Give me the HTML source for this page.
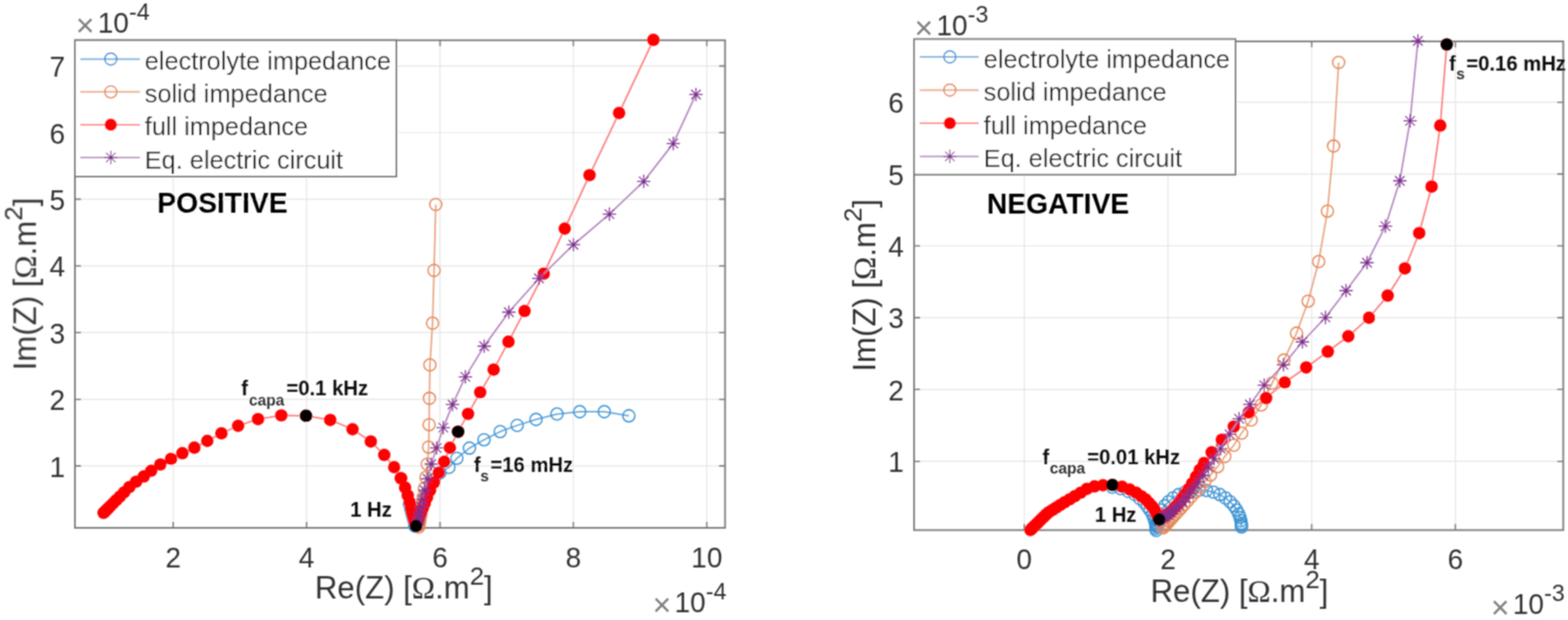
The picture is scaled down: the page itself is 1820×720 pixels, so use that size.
<!DOCTYPE html><html><head><meta charset="utf-8"><title>Impedance plots</title><style>html,body{margin:0;padding:0;background:#fff;}svg{display:block;}text{font-family:"Liberation Sans",Arial,sans-serif;}.t{fill:#333;font-size:32.5px;}.lab{fill:#333;font-size:36.2px;}.lg{fill:#262626;font-size:29.4px;}.an{fill:#111;font-size:23.5px;font-weight:bold;}.ans{fill:#333;font-size:18px;font-weight:bold;}.big{fill:#000;font-size:32.8px;font-weight:bold;}.om{font-family:"Liberation Serif",serif;}</style></head><body>
<svg width="1820" height="720" viewBox="0 0 1820 720">
<rect width="1820" height="720" fill="#fff"/>
<filter id="bl" x="0" y="0" width="1820" height="720" filterUnits="userSpaceOnUse"><feConvolveMatrix order="3" kernelMatrix="1 2 1 2 4 2 1 2 1" edgeMode="duplicate" preserveAlpha="false"/></filter>
<g filter="url(#bl)">
<defs><clipPath id="cl"><rect x="87" y="46.7" width="754.6" height="566.3"/></clipPath><clipPath id="cr"><rect x="1061" y="48.1" width="753.5" height="567.5"/></clipPath></defs>
<line x1="201" y1="46.7" x2="201" y2="613" stroke="#e4e4e4" stroke-width="1.2"/>
<line x1="355.8" y1="46.7" x2="355.8" y2="613" stroke="#e4e4e4" stroke-width="1.2"/>
<line x1="510.7" y1="46.7" x2="510.7" y2="613" stroke="#e4e4e4" stroke-width="1.2"/>
<line x1="665.5" y1="46.7" x2="665.5" y2="613" stroke="#e4e4e4" stroke-width="1.2"/>
<line x1="820.4" y1="46.7" x2="820.4" y2="613" stroke="#e4e4e4" stroke-width="1.2"/>
<line x1="87" y1="541.1" x2="841.6" y2="541.1" stroke="#e4e4e4" stroke-width="1.2"/>
<line x1="87" y1="463.7" x2="841.6" y2="463.7" stroke="#e4e4e4" stroke-width="1.2"/>
<line x1="87" y1="386.2" x2="841.6" y2="386.2" stroke="#e4e4e4" stroke-width="1.2"/>
<line x1="87" y1="308.8" x2="841.6" y2="308.8" stroke="#e4e4e4" stroke-width="1.2"/>
<line x1="87" y1="231.4" x2="841.6" y2="231.4" stroke="#e4e4e4" stroke-width="1.2"/>
<line x1="87" y1="154" x2="841.6" y2="154" stroke="#e4e4e4" stroke-width="1.2"/>
<line x1="87" y1="76.6" x2="841.6" y2="76.6" stroke="#e4e4e4" stroke-width="1.2"/>
<path d="M201 613v-7M201 46.7v7M355.8 613v-7M355.8 46.7v7M510.7 613v-7M510.7 46.7v7M665.5 613v-7M665.5 46.7v7M820.4 613v-7M820.4 46.7v7M87 541.1h7M841.6 541.1h-7M87 463.7h7M841.6 463.7h-7M87 386.2h7M841.6 386.2h-7M87 308.8h7M841.6 308.8h-7M87 231.4h7M841.6 231.4h-7M87 154h7M841.6 154h-7M87 76.6h7M841.6 76.6h-7" stroke="#777" stroke-width="1.6" fill="none"/>
<rect x="87" y="46.7" width="754.6" height="566.3" fill="none" stroke="#7a7a7a" stroke-width="2"/>
<polyline points="729.9,482.9 701.4,478.1 672.9,478.1 646.5,480.8 622.2,487.1 600.3,494 580.6,501.2 561.8,510.7 544.9,520.4 530.3,532.2 521,542.8 510.6,549.1 503.8,556.9 499.2,565.2 495.3,572.5 492.8,579.3 490.5,585.2 488.6,590.4 486.9,595 485.6,599.1 484.3,602.6 483.3,605.7 482.3,608.4 481.5,610.8 481.9,611.6 481.2,609.3 480.5,606.7 479.6,603.6 478.6,600.1 477.4,596 476.1,591.3 474.6,585.8" fill="none" stroke="#62a6da" stroke-width="1.8" stroke-linejoin="round" clip-path="url(#cl)"/>
<circle cx="729.9" cy="482.9" r="7.0" fill="none" stroke="#3a93d3" stroke-width="1.6"/>
<circle cx="701.4" cy="478.1" r="7.0" fill="none" stroke="#3a93d3" stroke-width="1.6"/>
<circle cx="672.9" cy="478.1" r="7.0" fill="none" stroke="#3a93d3" stroke-width="1.6"/>
<circle cx="646.5" cy="480.8" r="7.0" fill="none" stroke="#3a93d3" stroke-width="1.6"/>
<circle cx="622.2" cy="487.1" r="7.0" fill="none" stroke="#3a93d3" stroke-width="1.6"/>
<circle cx="600.3" cy="494" r="7.0" fill="none" stroke="#3a93d3" stroke-width="1.6"/>
<circle cx="580.6" cy="501.2" r="7.0" fill="none" stroke="#3a93d3" stroke-width="1.6"/>
<circle cx="561.8" cy="510.7" r="7.0" fill="none" stroke="#3a93d3" stroke-width="1.6"/>
<circle cx="544.9" cy="520.4" r="7.0" fill="none" stroke="#3a93d3" stroke-width="1.6"/>
<circle cx="530.3" cy="532.2" r="7.0" fill="none" stroke="#3a93d3" stroke-width="1.6"/>
<circle cx="521" cy="542.8" r="7.0" fill="none" stroke="#3a93d3" stroke-width="1.6"/>
<circle cx="510.6" cy="549.1" r="7.0" fill="none" stroke="#3a93d3" stroke-width="1.6"/>
<circle cx="503.8" cy="556.9" r="7.0" fill="none" stroke="#3a93d3" stroke-width="1.6"/>
<circle cx="499.2" cy="565.2" r="7.0" fill="none" stroke="#3a93d3" stroke-width="1.6"/>
<circle cx="495.3" cy="572.5" r="7.0" fill="none" stroke="#3a93d3" stroke-width="1.6"/>
<circle cx="492.8" cy="579.3" r="7.0" fill="none" stroke="#3a93d3" stroke-width="1.6"/>
<circle cx="490.5" cy="585.2" r="7.0" fill="none" stroke="#3a93d3" stroke-width="1.6"/>
<circle cx="488.6" cy="590.4" r="7.0" fill="none" stroke="#3a93d3" stroke-width="1.6"/>
<circle cx="486.9" cy="595" r="7.0" fill="none" stroke="#3a93d3" stroke-width="1.6"/>
<circle cx="485.6" cy="599.1" r="7.0" fill="none" stroke="#3a93d3" stroke-width="1.6"/>
<circle cx="484.3" cy="602.6" r="7.0" fill="none" stroke="#3a93d3" stroke-width="1.6"/>
<circle cx="483.3" cy="605.7" r="7.0" fill="none" stroke="#3a93d3" stroke-width="1.6"/>
<circle cx="482.3" cy="608.4" r="7.0" fill="none" stroke="#3a93d3" stroke-width="1.6"/>
<circle cx="481.5" cy="610.8" r="7.0" fill="none" stroke="#3a93d3" stroke-width="1.6"/>
<circle cx="481.9" cy="611.6" r="6.3" fill="none" stroke="#3a93d3" stroke-width="1.6"/>
<circle cx="481.2" cy="609.3" r="6.3" fill="none" stroke="#3a93d3" stroke-width="1.6"/>
<circle cx="480.5" cy="606.7" r="6.3" fill="none" stroke="#3a93d3" stroke-width="1.6"/>
<circle cx="479.6" cy="603.6" r="6.3" fill="none" stroke="#3a93d3" stroke-width="1.6"/>
<circle cx="478.6" cy="600.1" r="6.3" fill="none" stroke="#3a93d3" stroke-width="1.6"/>
<circle cx="477.4" cy="596" r="6.3" fill="none" stroke="#3a93d3" stroke-width="1.6"/>
<circle cx="476.1" cy="591.3" r="6.3" fill="none" stroke="#3a93d3" stroke-width="1.6"/>
<circle cx="474.6" cy="585.8" r="6.3" fill="none" stroke="#3a93d3" stroke-width="1.6"/>
<polyline points="505.8,237.5 503.8,314 502.1,375.3 499,423.8 498.4,462.6 498.1,493.2 497.5,519.2 496,539 494.4,554.3 492.7,567.1 491.3,577.4 490.1,585.9 489.1,592.7 488.3,598.3 487.5,602.9 486.9,606.6 486.4,609.6 486,612" fill="none" stroke="#e9a07c" stroke-width="1.8" stroke-linejoin="round" clip-path="url(#cl)"/>
<circle cx="505.8" cy="237.5" r="7.0" fill="none" stroke="#e58757" stroke-width="1.6"/>
<circle cx="503.8" cy="314" r="7.0" fill="none" stroke="#e58757" stroke-width="1.6"/>
<circle cx="502.1" cy="375.3" r="7.0" fill="none" stroke="#e58757" stroke-width="1.6"/>
<circle cx="499" cy="423.8" r="7.0" fill="none" stroke="#e58757" stroke-width="1.6"/>
<circle cx="498.4" cy="462.6" r="7.0" fill="none" stroke="#e58757" stroke-width="1.6"/>
<circle cx="498.1" cy="493.2" r="7.0" fill="none" stroke="#e58757" stroke-width="1.6"/>
<circle cx="497.5" cy="519.2" r="7.0" fill="none" stroke="#e58757" stroke-width="1.6"/>
<circle cx="496" cy="539" r="7.0" fill="none" stroke="#e58757" stroke-width="1.6"/>
<circle cx="494.4" cy="554.3" r="7.0" fill="none" stroke="#e58757" stroke-width="1.6"/>
<circle cx="492.7" cy="567.1" r="7.0" fill="none" stroke="#e58757" stroke-width="1.6"/>
<circle cx="491.3" cy="577.4" r="7.0" fill="none" stroke="#e58757" stroke-width="1.6"/>
<circle cx="490.1" cy="585.9" r="7.0" fill="none" stroke="#e58757" stroke-width="1.6"/>
<circle cx="489.1" cy="592.7" r="7.0" fill="none" stroke="#e58757" stroke-width="1.6"/>
<circle cx="488.3" cy="598.3" r="7.0" fill="none" stroke="#e58757" stroke-width="1.6"/>
<circle cx="487.5" cy="602.9" r="7.0" fill="none" stroke="#e58757" stroke-width="1.6"/>
<circle cx="486.9" cy="606.6" r="7.0" fill="none" stroke="#e58757" stroke-width="1.6"/>
<circle cx="486.4" cy="609.6" r="7.0" fill="none" stroke="#e58757" stroke-width="1.6"/>
<circle cx="486" cy="612" r="7.0" fill="none" stroke="#e58757" stroke-width="1.6"/>
<polyline points="120.2,595.6 121.7,594.1 123.6,592.2 125.7,590.1 128.3,587.5 131.3,584.5 134.9,580.9 139.2,576.6 144.2,571.6 150.2,565.6 158,559.4 166.9,553.3 175.5,546.6 186.2,539.4 198.5,532.9 211.7,526.3 225.6,519.8 240.6,512 257,503.2 276.4,494.5 299.5,486.7 326.5,482.4 355.2,482.8 383.3,487.7 409.2,498.5 430.4,512.7 446,528.3 457.5,542.5 465.4,555.4 465.4,555.4 470.2,566.2 473.3,575.4 475.5,583.2 477,589.7 478.3,595.1 479.5,599.5 480.6,603.2 481.5,606.2 482.2,608.7 482.8,610.8 483.6,608.7 484.6,606.1 485.7,603.2 487.1,599.6 488.7,595.4 490.6,590.4 493,584.6 495.7,577.6 499.2,569.5 503.9,560.1 509.4,548.9 515.6,536.1 522.2,520 531.7,501.4 543.3,480.6 557.4,455.6 573,429.2 590.2,396.8 608.9,361.1 631.1,317.8 655.5,265.5 684.3,203.4 718.6,131.2 758.4,46.3" fill="none" stroke="#ff7676" stroke-width="1.8" stroke-linejoin="round" clip-path="url(#cl)"/>
<circle cx="120.2" cy="595.6" r="7.2" fill="#FF0000"/>
<circle cx="121.7" cy="594.1" r="7.2" fill="#FF0000"/>
<circle cx="123.6" cy="592.2" r="7.2" fill="#FF0000"/>
<circle cx="125.7" cy="590.1" r="7.2" fill="#FF0000"/>
<circle cx="128.3" cy="587.5" r="7.2" fill="#FF0000"/>
<circle cx="131.3" cy="584.5" r="7.2" fill="#FF0000"/>
<circle cx="134.9" cy="580.9" r="7.2" fill="#FF0000"/>
<circle cx="139.2" cy="576.6" r="7.2" fill="#FF0000"/>
<circle cx="144.2" cy="571.6" r="7.2" fill="#FF0000"/>
<circle cx="150.2" cy="565.6" r="7.2" fill="#FF0000"/>
<circle cx="158" cy="559.4" r="7.2" fill="#FF0000"/>
<circle cx="166.9" cy="553.3" r="7.2" fill="#FF0000"/>
<circle cx="175.5" cy="546.6" r="7.2" fill="#FF0000"/>
<circle cx="186.2" cy="539.4" r="7.2" fill="#FF0000"/>
<circle cx="198.5" cy="532.9" r="7.2" fill="#FF0000"/>
<circle cx="211.7" cy="526.3" r="7.2" fill="#FF0000"/>
<circle cx="225.6" cy="519.8" r="7.2" fill="#FF0000"/>
<circle cx="240.6" cy="512" r="7.2" fill="#FF0000"/>
<circle cx="257" cy="503.2" r="7.2" fill="#FF0000"/>
<circle cx="276.4" cy="494.5" r="7.2" fill="#FF0000"/>
<circle cx="299.5" cy="486.7" r="7.2" fill="#FF0000"/>
<circle cx="326.5" cy="482.4" r="7.2" fill="#FF0000"/>
<circle cx="355.2" cy="482.8" r="7.2" fill="#FF0000"/>
<circle cx="383.3" cy="487.7" r="7.2" fill="#FF0000"/>
<circle cx="409.2" cy="498.5" r="7.2" fill="#FF0000"/>
<circle cx="430.4" cy="512.7" r="7.2" fill="#FF0000"/>
<circle cx="446" cy="528.3" r="7.2" fill="#FF0000"/>
<circle cx="457.5" cy="542.5" r="7.2" fill="#FF0000"/>
<circle cx="465.4" cy="555.4" r="7.2" fill="#FF0000"/>
<circle cx="465.4" cy="555.4" r="7.2" fill="#FF0000"/>
<circle cx="470.2" cy="566.2" r="7.2" fill="#FF0000"/>
<circle cx="473.3" cy="575.4" r="7.2" fill="#FF0000"/>
<circle cx="475.5" cy="583.2" r="7.2" fill="#FF0000"/>
<circle cx="477" cy="589.7" r="7.2" fill="#FF0000"/>
<circle cx="478.3" cy="595.1" r="7.2" fill="#FF0000"/>
<circle cx="479.5" cy="599.5" r="7.2" fill="#FF0000"/>
<circle cx="480.6" cy="603.2" r="7.2" fill="#FF0000"/>
<circle cx="481.5" cy="606.2" r="7.2" fill="#FF0000"/>
<circle cx="482.2" cy="608.7" r="7.2" fill="#FF0000"/>
<circle cx="482.8" cy="610.8" r="7.2" fill="#FF0000"/>
<circle cx="483.6" cy="608.7" r="7.2" fill="#FF0000"/>
<circle cx="484.6" cy="606.1" r="7.2" fill="#FF0000"/>
<circle cx="485.7" cy="603.2" r="7.2" fill="#FF0000"/>
<circle cx="487.1" cy="599.6" r="7.2" fill="#FF0000"/>
<circle cx="488.7" cy="595.4" r="7.2" fill="#FF0000"/>
<circle cx="490.6" cy="590.4" r="7.2" fill="#FF0000"/>
<circle cx="493" cy="584.6" r="7.2" fill="#FF0000"/>
<circle cx="495.7" cy="577.6" r="7.2" fill="#FF0000"/>
<circle cx="499.2" cy="569.5" r="7.2" fill="#FF0000"/>
<circle cx="503.9" cy="560.1" r="7.2" fill="#FF0000"/>
<circle cx="509.4" cy="548.9" r="7.2" fill="#FF0000"/>
<circle cx="515.6" cy="536.1" r="7.2" fill="#FF0000"/>
<circle cx="522.2" cy="520" r="7.2" fill="#FF0000"/>
<circle cx="531.7" cy="501.4" r="7.2" fill="#FF0000"/>
<circle cx="543.3" cy="480.6" r="7.2" fill="#FF0000"/>
<circle cx="557.4" cy="455.6" r="7.2" fill="#FF0000"/>
<circle cx="573" cy="429.2" r="7.2" fill="#FF0000"/>
<circle cx="590.2" cy="396.8" r="7.2" fill="#FF0000"/>
<circle cx="608.9" cy="361.1" r="7.2" fill="#FF0000"/>
<circle cx="631.1" cy="317.8" r="7.2" fill="#FF0000"/>
<circle cx="655.5" cy="265.5" r="7.2" fill="#FF0000"/>
<circle cx="684.3" cy="203.4" r="7.2" fill="#FF0000"/>
<circle cx="718.6" cy="131.2" r="7.2" fill="#FF0000"/>
<circle cx="758.4" cy="46.3" r="7.2" fill="#FF0000"/>
<polyline points="807.8,109.7 781.5,166.6 747.2,210.6 707.4,248.6 665.6,284.2 625.6,323.3 590.6,362.5 562,402 540.2,437.6 525.3,469.7 514.5,496.6 506.8,520.2 500.5,539 496.2,556 493,569.5 490.6,580.1 488.8,588.5 487.3,595 486.2,600.2 485.3,604.3 484.6,607.5 484,610" fill="none" stroke="#b283bf" stroke-width="1.8" stroke-linejoin="round" clip-path="url(#cl)"/>
<path d="M807.8 101.9v15.6M800 109.7h15.6M802.3 104.2l11 11M802.3 115.2l11 -11M781.5 158.8v15.6M773.7 166.6h15.6M776 161.1l11 11M776 172.1l11 -11M747.2 202.8v15.6M739.4 210.6h15.6M741.7 205.1l11 11M741.7 216.1l11 -11M707.4 240.8v15.6M699.6 248.6h15.6M701.9 243.1l11 11M701.9 254.1l11 -11M665.6 276.4v15.6M657.8 284.2h15.6M660.1 278.7l11 11M660.1 289.7l11 -11M625.6 315.5v15.6M617.8 323.3h15.6M620.1 317.8l11 11M620.1 328.8l11 -11M590.6 354.7v15.6M582.8 362.5h15.6M585.1 357l11 11M585.1 368l11 -11M562 394.2v15.6M554.2 402h15.6M556.5 396.5l11 11M556.5 407.5l11 -11M540.2 429.8v15.6M532.4 437.6h15.6M534.7 432.1l11 11M534.7 443.1l11 -11M525.3 461.9v15.6M517.5 469.7h15.6M519.8 464.2l11 11M519.8 475.2l11 -11M514.5 488.8v15.6M506.7 496.6h15.6M509 491.1l11 11M509 502.1l11 -11M506.8 512.4v15.6M499 520.2h15.6M501.3 514.7l11 11M501.3 525.7l11 -11M500.5 531.2v15.6M492.7 539h15.6M495 533.5l11 11M495 544.5l11 -11M496.2 548.2v15.6M488.4 556h15.6M490.7 550.5l11 11M490.7 561.6l11 -11M493 561.7v15.6M485.2 569.5h15.6M487.5 564l11 11M487.5 575l11 -11M490.6 572.3v15.6M482.8 580.1h15.6M485.1 574.6l11 11M485.1 585.6l11 -11M488.8 580.7v15.6M481 588.5h15.6M483.3 582.9l11 11M483.3 594l11 -11M487.3 587.2v15.6M479.5 595h15.6M481.8 589.5l11 11M481.8 600.5l11 -11M486.2 592.4v15.6M478.4 600.2h15.6M480.7 594.7l11 11M480.7 605.7l11 -11M485.3 596.5v15.6M477.5 604.3h15.6M479.8 598.8l11 11M479.8 609.8l11 -11M484.6 599.7v15.6M476.8 607.5h15.6M479 602l11 11M479 613l11 -11M484 602.2v15.6M476.2 610h15.6M478.5 604.5l11 11M478.5 615.5l11 -11" stroke="#7E2F8E" stroke-width="1.3" fill="none"/>
<circle cx="355.2" cy="482.8" r="7.2" fill="#000"/>
<circle cx="482.8" cy="610.8" r="7.2" fill="#000"/>
<circle cx="531.7" cy="501.4" r="7.2" fill="#000"/>
<line x1="1188.9" y1="48.1" x2="1188.9" y2="615.6" stroke="#e4e4e4" stroke-width="1.2"/>
<line x1="1355.7" y1="48.1" x2="1355.7" y2="615.6" stroke="#e4e4e4" stroke-width="1.2"/>
<line x1="1522.5" y1="48.1" x2="1522.5" y2="615.6" stroke="#e4e4e4" stroke-width="1.2"/>
<line x1="1689.3" y1="48.1" x2="1689.3" y2="615.6" stroke="#e4e4e4" stroke-width="1.2"/>
<line x1="1061" y1="535.7" x2="1814.5" y2="535.7" stroke="#e4e4e4" stroke-width="1.2"/>
<line x1="1061" y1="452.3" x2="1814.5" y2="452.3" stroke="#e4e4e4" stroke-width="1.2"/>
<line x1="1061" y1="368.9" x2="1814.5" y2="368.9" stroke="#e4e4e4" stroke-width="1.2"/>
<line x1="1061" y1="285.5" x2="1814.5" y2="285.5" stroke="#e4e4e4" stroke-width="1.2"/>
<line x1="1061" y1="202.1" x2="1814.5" y2="202.1" stroke="#e4e4e4" stroke-width="1.2"/>
<line x1="1061" y1="118.7" x2="1814.5" y2="118.7" stroke="#e4e4e4" stroke-width="1.2"/>
<path d="M1188.9 615.6v-7M1188.9 48.1v7M1355.7 615.6v-7M1355.7 48.1v7M1522.5 615.6v-7M1522.5 48.1v7M1689.3 615.6v-7M1689.3 48.1v7M1061 535.7h7M1814.5 535.7h-7M1061 452.3h7M1814.5 452.3h-7M1061 368.9h7M1814.5 368.9h-7M1061 285.5h7M1814.5 285.5h-7M1061 202.1h7M1814.5 202.1h-7M1061 118.7h7M1814.5 118.7h-7" stroke="#777" stroke-width="1.6" fill="none"/>
<rect x="1061" y="48.1" width="753.5" height="567.5" fill="none" stroke="#7a7a7a" stroke-width="2"/>
<polyline points="1290.7,566.4 1300.7,568.2 1309.3,571.3 1316.8,574.8 1322.4,579.6 1327.5,584 1331.1,588.8 1334.3,593.1 1336.9,597.2 1338.4,601.3 1339.7,605 1340.5,608.4 1340.9,611.5 1341.1,614.4 1342,616 1343,612 1343,610.3 1343.2,607.9 1343.7,604.8 1344.6,601.1 1346.1,596.9 1348.5,592.2 1351.8,587.4 1356.2,582.7 1361.6,578.3 1368.1,574.4 1375.6,571.5 1383.6,569.6 1392,569 1400.4,569.6 1408.4,571.5 1415.9,574.4 1422.4,578.3 1427.8,582.7 1432.2,587.4 1435.5,592.2 1437.9,596.9 1439.4,601.1 1440.3,604.8 1440.8,607.9 1441,610.3 1441,612" fill="none" stroke="#62a6da" stroke-width="1.8" stroke-linejoin="round" clip-path="url(#cr)"/>
<circle cx="1342" cy="616" r="7.0" fill="none" stroke="#3a93d3" stroke-width="1.6"/>
<circle cx="1343" cy="612" r="7.0" fill="none" stroke="#3a93d3" stroke-width="1.6"/>
<circle cx="1343" cy="610.3" r="7.0" fill="none" stroke="#3a93d3" stroke-width="1.6"/>
<circle cx="1343.2" cy="607.9" r="7.0" fill="none" stroke="#3a93d3" stroke-width="1.6"/>
<circle cx="1343.7" cy="604.8" r="7.0" fill="none" stroke="#3a93d3" stroke-width="1.6"/>
<circle cx="1344.6" cy="601.1" r="7.0" fill="none" stroke="#3a93d3" stroke-width="1.6"/>
<circle cx="1346.1" cy="596.9" r="7.0" fill="none" stroke="#3a93d3" stroke-width="1.6"/>
<circle cx="1348.5" cy="592.2" r="7.0" fill="none" stroke="#3a93d3" stroke-width="1.6"/>
<circle cx="1351.8" cy="587.4" r="7.0" fill="none" stroke="#3a93d3" stroke-width="1.6"/>
<circle cx="1356.2" cy="582.7" r="7.0" fill="none" stroke="#3a93d3" stroke-width="1.6"/>
<circle cx="1361.6" cy="578.3" r="7.0" fill="none" stroke="#3a93d3" stroke-width="1.6"/>
<circle cx="1368.1" cy="574.4" r="7.0" fill="none" stroke="#3a93d3" stroke-width="1.6"/>
<circle cx="1375.6" cy="571.5" r="7.0" fill="none" stroke="#3a93d3" stroke-width="1.6"/>
<circle cx="1383.6" cy="569.6" r="7.0" fill="none" stroke="#3a93d3" stroke-width="1.6"/>
<circle cx="1392" cy="569" r="7.0" fill="none" stroke="#3a93d3" stroke-width="1.6"/>
<circle cx="1400.4" cy="569.6" r="7.0" fill="none" stroke="#3a93d3" stroke-width="1.6"/>
<circle cx="1408.4" cy="571.5" r="7.0" fill="none" stroke="#3a93d3" stroke-width="1.6"/>
<circle cx="1415.9" cy="574.4" r="7.0" fill="none" stroke="#3a93d3" stroke-width="1.6"/>
<circle cx="1422.4" cy="578.3" r="7.0" fill="none" stroke="#3a93d3" stroke-width="1.6"/>
<circle cx="1427.8" cy="582.7" r="7.0" fill="none" stroke="#3a93d3" stroke-width="1.6"/>
<circle cx="1432.2" cy="587.4" r="7.0" fill="none" stroke="#3a93d3" stroke-width="1.6"/>
<circle cx="1435.5" cy="592.2" r="7.0" fill="none" stroke="#3a93d3" stroke-width="1.6"/>
<circle cx="1437.9" cy="596.9" r="7.0" fill="none" stroke="#3a93d3" stroke-width="1.6"/>
<circle cx="1439.4" cy="601.1" r="7.0" fill="none" stroke="#3a93d3" stroke-width="1.6"/>
<circle cx="1440.3" cy="604.8" r="7.0" fill="none" stroke="#3a93d3" stroke-width="1.6"/>
<circle cx="1440.8" cy="607.9" r="7.0" fill="none" stroke="#3a93d3" stroke-width="1.6"/>
<circle cx="1441" cy="610.3" r="7.0" fill="none" stroke="#3a93d3" stroke-width="1.6"/>
<circle cx="1441" cy="612" r="7.0" fill="none" stroke="#3a93d3" stroke-width="1.6"/>
<circle cx="1290.7" cy="566.4" r="6.3" fill="none" stroke="#3a93d3" stroke-width="1.6"/>
<circle cx="1300.7" cy="568.2" r="6.3" fill="none" stroke="#3a93d3" stroke-width="1.6"/>
<circle cx="1309.3" cy="571.3" r="6.3" fill="none" stroke="#3a93d3" stroke-width="1.6"/>
<circle cx="1316.8" cy="574.8" r="6.3" fill="none" stroke="#3a93d3" stroke-width="1.6"/>
<circle cx="1322.4" cy="579.6" r="6.3" fill="none" stroke="#3a93d3" stroke-width="1.6"/>
<circle cx="1327.5" cy="584" r="6.3" fill="none" stroke="#3a93d3" stroke-width="1.6"/>
<circle cx="1331.1" cy="588.8" r="6.3" fill="none" stroke="#3a93d3" stroke-width="1.6"/>
<circle cx="1334.3" cy="593.1" r="6.3" fill="none" stroke="#3a93d3" stroke-width="1.6"/>
<circle cx="1336.9" cy="597.2" r="6.3" fill="none" stroke="#3a93d3" stroke-width="1.6"/>
<circle cx="1338.4" cy="601.3" r="6.3" fill="none" stroke="#3a93d3" stroke-width="1.6"/>
<circle cx="1339.7" cy="605" r="6.3" fill="none" stroke="#3a93d3" stroke-width="1.6"/>
<circle cx="1340.5" cy="608.4" r="6.3" fill="none" stroke="#3a93d3" stroke-width="1.6"/>
<circle cx="1340.9" cy="611.5" r="6.3" fill="none" stroke="#3a93d3" stroke-width="1.6"/>
<circle cx="1341.1" cy="614.4" r="6.3" fill="none" stroke="#3a93d3" stroke-width="1.6"/>
<polyline points="1350,613 1351.5,611.3 1353.2,609.5 1355,607.5 1357,605.2 1359.2,602.8 1361.7,600.1 1364.4,597.1 1367.3,593.8 1370.6,590.2 1374.2,586.2 1378.2,581.7 1382.6,576.8 1387.4,571.4 1392.7,565.5 1398.6,558.9 1405,551.7 1413.3,541.9 1421.7,530.1 1432.1,517 1441.1,503 1452.2,487.8 1464,470.2 1476.5,445 1490.3,418.1 1504.9,386.9 1518.4,349.7 1530.6,303.8 1540.8,245.2 1547.9,169.6 1553.8,72.5" fill="none" stroke="#e9a07c" stroke-width="1.8" stroke-linejoin="round" clip-path="url(#cr)"/>
<circle cx="1350" cy="613" r="7.0" fill="none" stroke="#e58757" stroke-width="1.6"/>
<circle cx="1351.5" cy="611.3" r="7.0" fill="none" stroke="#e58757" stroke-width="1.6"/>
<circle cx="1353.2" cy="609.5" r="7.0" fill="none" stroke="#e58757" stroke-width="1.6"/>
<circle cx="1355" cy="607.5" r="7.0" fill="none" stroke="#e58757" stroke-width="1.6"/>
<circle cx="1357" cy="605.2" r="7.0" fill="none" stroke="#e58757" stroke-width="1.6"/>
<circle cx="1359.2" cy="602.8" r="7.0" fill="none" stroke="#e58757" stroke-width="1.6"/>
<circle cx="1361.7" cy="600.1" r="7.0" fill="none" stroke="#e58757" stroke-width="1.6"/>
<circle cx="1364.4" cy="597.1" r="7.0" fill="none" stroke="#e58757" stroke-width="1.6"/>
<circle cx="1367.3" cy="593.8" r="7.0" fill="none" stroke="#e58757" stroke-width="1.6"/>
<circle cx="1370.6" cy="590.2" r="7.0" fill="none" stroke="#e58757" stroke-width="1.6"/>
<circle cx="1374.2" cy="586.2" r="7.0" fill="none" stroke="#e58757" stroke-width="1.6"/>
<circle cx="1378.2" cy="581.7" r="7.0" fill="none" stroke="#e58757" stroke-width="1.6"/>
<circle cx="1382.6" cy="576.8" r="7.0" fill="none" stroke="#e58757" stroke-width="1.6"/>
<circle cx="1387.4" cy="571.4" r="7.0" fill="none" stroke="#e58757" stroke-width="1.6"/>
<circle cx="1392.7" cy="565.5" r="7.0" fill="none" stroke="#e58757" stroke-width="1.6"/>
<circle cx="1398.6" cy="558.9" r="7.0" fill="none" stroke="#e58757" stroke-width="1.6"/>
<circle cx="1405" cy="551.7" r="7.0" fill="none" stroke="#e58757" stroke-width="1.6"/>
<circle cx="1413.3" cy="541.9" r="7.0" fill="none" stroke="#e58757" stroke-width="1.6"/>
<circle cx="1421.7" cy="530.1" r="7.0" fill="none" stroke="#e58757" stroke-width="1.6"/>
<circle cx="1432.1" cy="517" r="7.0" fill="none" stroke="#e58757" stroke-width="1.6"/>
<circle cx="1441.1" cy="503" r="7.0" fill="none" stroke="#e58757" stroke-width="1.6"/>
<circle cx="1452.2" cy="487.8" r="7.0" fill="none" stroke="#e58757" stroke-width="1.6"/>
<circle cx="1464" cy="470.2" r="7.0" fill="none" stroke="#e58757" stroke-width="1.6"/>
<circle cx="1476.5" cy="445" r="7.0" fill="none" stroke="#e58757" stroke-width="1.6"/>
<circle cx="1490.3" cy="418.1" r="7.0" fill="none" stroke="#e58757" stroke-width="1.6"/>
<circle cx="1504.9" cy="386.9" r="7.0" fill="none" stroke="#e58757" stroke-width="1.6"/>
<circle cx="1518.4" cy="349.7" r="7.0" fill="none" stroke="#e58757" stroke-width="1.6"/>
<circle cx="1530.6" cy="303.8" r="7.0" fill="none" stroke="#e58757" stroke-width="1.6"/>
<circle cx="1540.8" cy="245.2" r="7.0" fill="none" stroke="#e58757" stroke-width="1.6"/>
<circle cx="1547.9" cy="169.6" r="7.0" fill="none" stroke="#e58757" stroke-width="1.6"/>
<circle cx="1553.8" cy="72.5" r="7.0" fill="none" stroke="#e58757" stroke-width="1.6"/>
<polyline points="1196,615.5 1197.4,614.1 1198.9,612.6 1200.6,610.9 1202.5,609.1 1204.5,607.1 1206.6,605 1209,602.6 1211.6,600.1 1214.4,597.3 1217.7,594.6 1221.7,592.1 1226,589.4 1230.7,586.4 1235.8,583.2 1241.5,579.9 1247.6,576.2 1254.3,572.1 1261.6,567.7 1270.4,564.8 1280.3,563.5 1291.2,563.1 1302.3,565.1 1311.3,568.5 1318.8,572.2 1324.8,576.4 1330,580 1333.7,584.1 1336.9,587.7 1339.6,590.8 1341.2,594 1342.5,596.8 1343.6,599.3 1344.6,601.4 1345.4,603.3 1347.1,602.2 1349,601 1351.1,599.6 1353.5,597.9 1356.1,596.1 1359,594 1361.8,591.1 1364.9,587.8 1368.3,584 1371.6,579.3 1375.3,574.1 1379.4,568.2 1383.8,561.4 1388.3,553.5 1392.6,545.6 1397.4,537.8 1406.4,525.3 1418.2,510.7 1432.1,495.4 1449.4,478.8 1469.6,462.3 1491.2,444.1 1516.2,426.7 1541.2,408.3 1565,390.5 1589,369 1610.7,343.3 1630.7,311.7 1647.3,270.7 1661.7,216.7 1671.7,145.8 1679.3,51.6" fill="none" stroke="#ff7676" stroke-width="1.8" stroke-linejoin="round" clip-path="url(#cr)"/>
<circle cx="1196" cy="615.5" r="7.2" fill="#FF0000"/>
<circle cx="1197.4" cy="614.1" r="7.2" fill="#FF0000"/>
<circle cx="1198.9" cy="612.6" r="7.2" fill="#FF0000"/>
<circle cx="1200.6" cy="610.9" r="7.2" fill="#FF0000"/>
<circle cx="1202.5" cy="609.1" r="7.2" fill="#FF0000"/>
<circle cx="1204.5" cy="607.1" r="7.2" fill="#FF0000"/>
<circle cx="1206.6" cy="605" r="7.2" fill="#FF0000"/>
<circle cx="1209" cy="602.6" r="7.2" fill="#FF0000"/>
<circle cx="1211.6" cy="600.1" r="7.2" fill="#FF0000"/>
<circle cx="1214.4" cy="597.3" r="7.2" fill="#FF0000"/>
<circle cx="1217.7" cy="594.6" r="7.2" fill="#FF0000"/>
<circle cx="1221.7" cy="592.1" r="7.2" fill="#FF0000"/>
<circle cx="1226" cy="589.4" r="7.2" fill="#FF0000"/>
<circle cx="1230.7" cy="586.4" r="7.2" fill="#FF0000"/>
<circle cx="1235.8" cy="583.2" r="7.2" fill="#FF0000"/>
<circle cx="1241.5" cy="579.9" r="7.2" fill="#FF0000"/>
<circle cx="1247.6" cy="576.2" r="7.2" fill="#FF0000"/>
<circle cx="1254.3" cy="572.1" r="7.2" fill="#FF0000"/>
<circle cx="1261.6" cy="567.7" r="7.2" fill="#FF0000"/>
<circle cx="1270.4" cy="564.8" r="7.2" fill="#FF0000"/>
<circle cx="1280.3" cy="563.5" r="7.2" fill="#FF0000"/>
<circle cx="1291.2" cy="563.1" r="7.2" fill="#FF0000"/>
<circle cx="1302.3" cy="565.1" r="7.2" fill="#FF0000"/>
<circle cx="1311.3" cy="568.5" r="7.2" fill="#FF0000"/>
<circle cx="1318.8" cy="572.2" r="7.2" fill="#FF0000"/>
<circle cx="1324.8" cy="576.4" r="7.2" fill="#FF0000"/>
<circle cx="1330" cy="580" r="7.2" fill="#FF0000"/>
<circle cx="1333.7" cy="584.1" r="7.2" fill="#FF0000"/>
<circle cx="1336.9" cy="587.7" r="7.2" fill="#FF0000"/>
<circle cx="1339.6" cy="590.8" r="7.2" fill="#FF0000"/>
<circle cx="1341.2" cy="594" r="7.2" fill="#FF0000"/>
<circle cx="1342.5" cy="596.8" r="7.2" fill="#FF0000"/>
<circle cx="1343.6" cy="599.3" r="7.2" fill="#FF0000"/>
<circle cx="1344.6" cy="601.4" r="7.2" fill="#FF0000"/>
<circle cx="1345.4" cy="603.3" r="7.2" fill="#FF0000"/>
<circle cx="1347.1" cy="602.2" r="7.2" fill="#FF0000"/>
<circle cx="1349" cy="601" r="7.2" fill="#FF0000"/>
<circle cx="1351.1" cy="599.6" r="7.2" fill="#FF0000"/>
<circle cx="1353.5" cy="597.9" r="7.2" fill="#FF0000"/>
<circle cx="1356.1" cy="596.1" r="7.2" fill="#FF0000"/>
<circle cx="1359" cy="594" r="7.2" fill="#FF0000"/>
<circle cx="1361.8" cy="591.1" r="7.2" fill="#FF0000"/>
<circle cx="1364.9" cy="587.8" r="7.2" fill="#FF0000"/>
<circle cx="1368.3" cy="584" r="7.2" fill="#FF0000"/>
<circle cx="1371.6" cy="579.3" r="7.2" fill="#FF0000"/>
<circle cx="1375.3" cy="574.1" r="7.2" fill="#FF0000"/>
<circle cx="1379.4" cy="568.2" r="7.2" fill="#FF0000"/>
<circle cx="1383.8" cy="561.4" r="7.2" fill="#FF0000"/>
<circle cx="1388.3" cy="553.5" r="7.2" fill="#FF0000"/>
<circle cx="1392.6" cy="545.6" r="7.2" fill="#FF0000"/>
<circle cx="1397.4" cy="537.8" r="7.2" fill="#FF0000"/>
<circle cx="1406.4" cy="525.3" r="7.2" fill="#FF0000"/>
<circle cx="1418.2" cy="510.7" r="7.2" fill="#FF0000"/>
<circle cx="1432.1" cy="495.4" r="7.2" fill="#FF0000"/>
<circle cx="1449.4" cy="478.8" r="7.2" fill="#FF0000"/>
<circle cx="1469.6" cy="462.3" r="7.2" fill="#FF0000"/>
<circle cx="1491.2" cy="444.1" r="7.2" fill="#FF0000"/>
<circle cx="1516.2" cy="426.7" r="7.2" fill="#FF0000"/>
<circle cx="1541.2" cy="408.3" r="7.2" fill="#FF0000"/>
<circle cx="1565" cy="390.5" r="7.2" fill="#FF0000"/>
<circle cx="1589" cy="369" r="7.2" fill="#FF0000"/>
<circle cx="1610.7" cy="343.3" r="7.2" fill="#FF0000"/>
<circle cx="1630.7" cy="311.7" r="7.2" fill="#FF0000"/>
<circle cx="1647.3" cy="270.7" r="7.2" fill="#FF0000"/>
<circle cx="1661.7" cy="216.7" r="7.2" fill="#FF0000"/>
<circle cx="1671.7" cy="145.8" r="7.2" fill="#FF0000"/>
<circle cx="1679.3" cy="51.6" r="7.2" fill="#FF0000"/>
<polyline points="1345.4,604 1347.1,603 1349,602 1351.2,600.7 1353.6,599.4 1356.2,597.8 1358.8,595.5 1361.7,592.9 1365,590 1368.6,586.7 1372.6,582.9 1376.5,578.2 1380.9,572.9 1385.8,566.8 1391,559.9 1396.7,552 1402.6,542.8 1409.2,532.6 1416.8,521.1 1427.2,504.4 1438.3,486.4 1450.8,469.7 1467.4,447.4 1489.7,423.6 1511.7,397 1538.5,368.6 1562.4,337.5 1586.7,305 1608.1,262.6 1624.8,210 1636.7,140.4 1645.8,47.5" fill="none" stroke="#b283bf" stroke-width="1.8" stroke-linejoin="round" clip-path="url(#cr)"/>
<path d="M1345.4 596.2v15.6M1337.6 604h15.6M1339.9 598.5l11 11M1339.9 609.5l11 -11M1347.1 595.2v15.6M1339.3 603h15.6M1341.6 597.5l11 11M1341.6 608.5l11 -11M1349 594.2v15.6M1341.2 602h15.6M1343.5 596.4l11 11M1343.5 607.5l11 -11M1351.2 592.9v15.6M1343.4 600.7h15.6M1345.6 595.2l11 11M1345.6 606.3l11 -11M1353.6 591.6v15.6M1345.8 599.4h15.6M1348.1 593.9l11 11M1348.1 604.9l11 -11M1356.2 590v15.6M1348.4 597.8h15.6M1350.7 592.3l11 11M1350.7 603.3l11 -11M1358.8 587.7v15.6M1351 595.5h15.6M1353.3 590l11 11M1353.3 601l11 -11M1361.7 585.1v15.6M1353.9 592.9h15.6M1356.2 587.4l11 11M1356.2 598.4l11 -11M1365 582.2v15.6M1357.2 590h15.6M1359.5 584.5l11 11M1359.5 595.5l11 -11M1368.6 578.9v15.6M1360.8 586.7h15.6M1363.1 581.1l11 11M1363.1 592.2l11 -11M1372.6 575.1v15.6M1364.8 582.9h15.6M1367.1 577.4l11 11M1367.1 588.4l11 -11M1376.5 570.4v15.6M1368.7 578.2h15.6M1371 572.7l11 11M1371 583.7l11 -11M1380.9 565.1v15.6M1373.1 572.9h15.6M1375.4 567.3l11 11M1375.4 578.4l11 -11M1385.8 559v15.6M1378 566.8h15.6M1380.2 561.3l11 11M1380.2 572.3l11 -11M1391 552.1v15.6M1383.2 559.9h15.6M1385.5 554.4l11 11M1385.5 565.4l11 -11M1396.7 544.2v15.6M1388.9 552h15.6M1391.1 546.5l11 11M1391.1 557.5l11 -11M1402.6 535v15.6M1394.8 542.8h15.6M1397 537.3l11 11M1397 548.3l11 -11M1409.2 524.8v15.6M1401.4 532.6h15.6M1403.7 527l11 11M1403.7 538.1l11 -11M1416.8 513.3v15.6M1409 521.1h15.6M1411.3 515.6l11 11M1411.3 526.6l11 -11M1427.2 496.6v15.6M1419.4 504.4h15.6M1421.7 498.9l11 11M1421.7 509.9l11 -11M1438.3 478.6v15.6M1430.5 486.4h15.6M1432.8 480.9l11 11M1432.8 491.9l11 -11M1450.8 461.9v15.6M1443 469.7h15.6M1445.3 464.2l11 11M1445.3 475.2l11 -11M1467.4 439.6v15.6M1459.6 447.4h15.6M1461.9 441.9l11 11M1461.9 452.9l11 -11M1489.7 415.8v15.6M1481.9 423.6h15.6M1484.2 418.1l11 11M1484.2 429.1l11 -11M1511.7 389.2v15.6M1503.9 397h15.6M1506.2 391.5l11 11M1506.2 402.5l11 -11M1538.5 360.8v15.6M1530.7 368.6h15.6M1533 363.1l11 11M1533 374.1l11 -11M1562.4 329.7v15.6M1554.6 337.5h15.6M1556.9 332l11 11M1556.9 343l11 -11M1586.7 297.2v15.6M1578.9 305h15.6M1581.2 299.5l11 11M1581.2 310.5l11 -11M1608.1 254.8v15.6M1600.3 262.6h15.6M1602.6 257.1l11 11M1602.6 268.1l11 -11M1624.8 202.2v15.6M1617 210h15.6M1619.3 204.5l11 11M1619.3 215.5l11 -11M1636.7 132.6v15.6M1628.9 140.4h15.6M1631.2 134.9l11 11M1631.2 145.9l11 -11M1645.8 39.7v15.6M1638 47.5h15.6M1640.3 42l11 11M1640.3 53l11 -11" stroke="#7E2F8E" stroke-width="1.3" fill="none"/>
<circle cx="1291.2" cy="563.1" r="7.2" fill="#000"/>
<circle cx="1345.4" cy="603.3" r="7.2" fill="#000"/>
<circle cx="1679.3" cy="51.6" r="7.2" fill="#000"/>
<text class="t" x="201" y="659.3" text-anchor="middle">2</text>
<text class="t" x="355.8" y="659.3" text-anchor="middle">4</text>
<text class="t" x="510.7" y="659.3" text-anchor="middle">6</text>
<text class="t" x="665.5" y="659.3" text-anchor="middle">8</text>
<text class="t" x="820.4" y="659.3" text-anchor="middle">10</text>
<text class="t" x="75.5" y="553.6" text-anchor="end">1</text>
<text class="t" x="75.5" y="476.2" text-anchor="end">2</text>
<text class="t" x="75.5" y="398.7" text-anchor="end">3</text>
<text class="t" x="75.5" y="321.3" text-anchor="end">4</text>
<text class="t" x="75.5" y="243.9" text-anchor="end">5</text>
<text class="t" x="75.5" y="166.5" text-anchor="end">6</text>
<text class="t" x="75.5" y="89.1" text-anchor="end">7</text>
<text class="t" x="1188.9" y="661" text-anchor="middle">0</text>
<text class="t" x="1355.7" y="661" text-anchor="middle">2</text>
<text class="t" x="1522.5" y="661" text-anchor="middle">4</text>
<text class="t" x="1689.3" y="661" text-anchor="middle">6</text>
<text class="t" x="1049" y="548.2" text-anchor="end">1</text>
<text class="t" x="1049" y="464.8" text-anchor="end">2</text>
<text class="t" x="1049" y="381.4" text-anchor="end">3</text>
<text class="t" x="1049" y="298" text-anchor="end">4</text>
<text class="t" x="1049" y="214.6" text-anchor="end">5</text>
<text class="t" x="1049" y="131.2" text-anchor="end">6</text>
<text class="t" x="88.1" y="42.1" style="font-size:37px;fill:#808080">×</text>
<text class="t" x="113.5" y="37.8">10<tspan font-size="27" dy="-15">-4</tspan></text>
<text class="t" x="757.6" y="714.9" style="font-size:37px;fill:#808080">×</text>
<text class="t" x="783" y="710.6">10<tspan font-size="27" dy="-15">-4</tspan></text>
<text class="t" x="1061.6" y="45.3" style="font-size:37px;fill:#808080">×</text>
<text class="t" x="1087" y="41">10<tspan font-size="27" dy="-15">-3</tspan></text>
<text class="t" x="1730.6" y="717.6" style="font-size:37px;fill:#808080">×</text>
<text class="t" x="1756" y="713.3">10<tspan font-size="27" dy="-15">-3</tspan></text>
<text class="lab" x="468.7" y="694.8" text-anchor="middle">Re(Z) [<tspan class="om">Ω</tspan>.m<tspan font-size="30" dy="-16">2</tspan><tspan dy="16">]</tspan></text>
<text class="lab" x="1438.7" y="698.7" text-anchor="middle">Re(Z) [<tspan class="om">Ω</tspan>.m<tspan font-size="30" dy="-16">2</tspan><tspan dy="16">]</tspan></text>
<text class="lab" transform="translate(41.7 329.8) rotate(-90)" x="0" y="0" text-anchor="middle">Im(Z) [<tspan class="om">Ω</tspan>.m<tspan font-size="30" dy="-16">2</tspan><tspan dy="16">]</tspan></text>
<text class="lab" transform="translate(1015.8 331.3) rotate(-90)" x="0" y="0" text-anchor="middle">Im(Z) [<tspan class="om">Ω</tspan>.m<tspan font-size="30" dy="-16">2</tspan><tspan dy="16">]</tspan></text>
<rect x="87" y="46.7" width="373" height="158.3" fill="#fff" stroke="#7a7a7a" stroke-width="2"/>
<line x1="93.2" y1="68.6" x2="162.4" y2="68.6" stroke="#62a6da" stroke-width="1.8"/>
<circle cx="128.6" cy="68.6" r="7.0" fill="none" stroke="#3a93d3" stroke-width="1.6"/>
<text class="lg" x="168" y="81.2">electrolyte impedance</text>
<line x1="93.2" y1="106.7" x2="162.4" y2="106.7" stroke="#e9a07c" stroke-width="1.8"/>
<circle cx="128.6" cy="106.7" r="7.0" fill="none" stroke="#e58757" stroke-width="1.6"/>
<text class="lg" x="168" y="119.3">solid impedance</text>
<line x1="93.2" y1="144.8" x2="162.4" y2="144.8" stroke="#ff7676" stroke-width="1.8"/>
<circle cx="128.6" cy="144.8" r="7.2" fill="#FF0000"/>
<text class="lg" x="168" y="157.4">full impedance</text>
<line x1="93.2" y1="182.9" x2="162.4" y2="182.9" stroke="#b283bf" stroke-width="1.8"/>
<path d="M128.6 175.1v15.6M120.8 182.9h15.6M123.1 177.4l11 11M123.1 188.4l11 -11" stroke="#7E2F8E" stroke-width="1.3" fill="none"/>
<text class="lg" x="168" y="195.5">Eq. electric circuit</text>
<rect x="1061" y="45.4" width="373" height="157.4" fill="#fff" stroke="#7a7a7a" stroke-width="2"/>
<line x1="1067.6" y1="66.1" x2="1136" y2="66.1" stroke="#62a6da" stroke-width="1.8"/>
<circle cx="1102.5" cy="66.1" r="7.0" fill="none" stroke="#3a93d3" stroke-width="1.6"/>
<text class="lg" x="1141.8" y="78.7">electrolyte impedance</text>
<line x1="1067.6" y1="104.6" x2="1136" y2="104.6" stroke="#e9a07c" stroke-width="1.8"/>
<circle cx="1102.5" cy="104.6" r="7.0" fill="none" stroke="#e58757" stroke-width="1.6"/>
<text class="lg" x="1141.8" y="117.2">solid impedance</text>
<line x1="1067.6" y1="143.1" x2="1136" y2="143.1" stroke="#ff7676" stroke-width="1.8"/>
<circle cx="1102.5" cy="143.1" r="7.2" fill="#FF0000"/>
<text class="lg" x="1141.8" y="155.7">full impedance</text>
<line x1="1067.6" y1="181.6" x2="1136" y2="181.6" stroke="#b283bf" stroke-width="1.8"/>
<path d="M1102.5 173.8v15.6M1094.7 181.6h15.6M1097 176.1l11 11M1097 187.1l11 -11" stroke="#7E2F8E" stroke-width="1.3" fill="none"/>
<text class="lg" x="1141.8" y="194.2">Eq. electric circuit</text>
<text class="an" x="280" y="459.2">f</text>
<text class="an ans" x="289" y="470.6">capa</text>
<text class="an" x="332.5" y="459.2">=0.1 kHz</text>
<text class="an" x="406.5" y="600.2">1 Hz</text>
<text class="an" x="550" y="548.2">f</text>
<text class="an ans" x="557.5" y="559">s</text>
<text class="an" x="569.3" y="548.2">=16 mHz</text>
<text class="big" x="182.5" y="246.6">POSITIVE</text>
<text class="an" x="1210" y="538.7">f</text>
<text class="an ans" x="1218.5" y="550">capa</text>
<text class="an" x="1262" y="538.7">=0.01 kHz</text>
<text class="an" x="1270.8" y="605.6">1 Hz</text>
<text class="an" x="1682" y="82">f</text>
<text class="an ans" x="1690.3" y="92">s</text>
<text class="an" x="1702" y="82">=0.16 mHz</text>
<text class="big" x="1145.5" y="247.9">NEGATIVE</text>
</g></svg></body></html>
